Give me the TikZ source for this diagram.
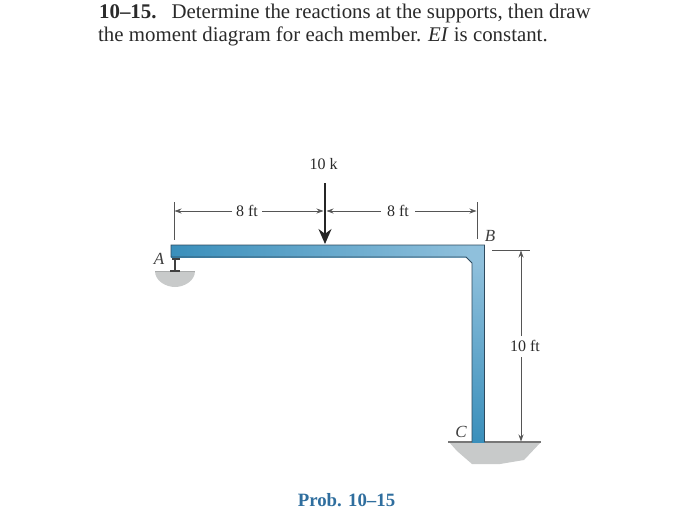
\documentclass[tikz,border=0pt]{standalone}
\usepackage{fontspec}
\setmainfont{Liberation Serif}
\usetikzlibrary{arrows.meta,shadings}
\definecolor{beamedge}{HTML}{2E4A5E}
\definecolor{beamdark}{HTML}{3A8FBB}
\definecolor{beamlight}{HTML}{8FC0DC}
\definecolor{dimgrey}{HTML}{555555}
\definecolor{ground}{HTML}{C8CACA}
\definecolor{titletext}{HTML}{2A2A2A}
\definecolor{probtext}{HTML}{2F6E9E}
\tikzset{
  title/.style={anchor=base west,inner sep=0pt,font=\fontsize{20.85}{21}\selectfont,text=titletext},
  dimlabel/.style={inner sep=0pt,font=\fontsize{16}{17}\selectfont,text=titletext},
  ptlabel/.style={inner sep=0pt,font=\fontsize{17}{18}\selectfont\itshape,text=titletext!90},
  dimline/.style={draw=dimgrey,line width=0.8pt},
  dimarrow/.style={dimline,-{Stealth[length=7pt,width=5pt]}},
  extline/.style={draw=dimgrey,line width=0.9pt},
  groundline/.style={draw=dimgrey!80,line width=1.2pt},
  member/.style={draw=beamedge,line width=0.9pt},
  load/.style={draw=black!85,line width=1.8pt,-{Stealth[length=15pt,width=13pt]}},
}
\begin{document}
\begin{tikzpicture}[x=1pt,y=-1pt]
\useasboundingbox (0,0) rectangle (700,531);
% title
\node[title] (t1) at (99,18) {\textbf{10–15.}\hspace{0.72em}Determine the reactions at the supports, then draw};
\node[title] (t2) at (98,41) {the moment diagram for each member. \textit{EI} is constant.};
% ground at A
\fill[ground] (155,271) -- (195,271) .. controls (195,281) and (184,287) .. (175,287) .. controls (166,287) and (155,281) .. (155,271) -- cycle;
\coordinate (gal) at (155,271);
\coordinate (gar) at (195,271);
\draw[draw=ground!85!black,line width=0.8pt] (gal) -- (gar);
% ground at C
\fill[ground] (449,442) -- (541,442) -- (524,460) -- (500,464) -- (472,464) -- (457,451) -- cycle;
\coordinate (gcl) at (448,442);
\coordinate (gcr) at (541,442);
\draw[groundline] (gcl) -- (gcr);
% pin support at A
\draw[draw=black!75,line width=2pt] (172,258.5) -- (180,258.5) (174.5,258) -- (174.5,270.5) (170,270.5) -- (180,270.5);
% frame
\shade[left color=beamdark,right color=beamlight]
 (171,245) -- (471,245) -- (471,257) -- (171,257) -- cycle;
\shade[top color=beamlight,bottom color=beamdark]
 (472,263) -- (484.5,263) -- (484.5,442) -- (472,442) -- cycle;
\fill[beamlight] (470.5,245) -- (484.5,245) -- (484.5,263.5) -- (472,263.5) -- (466,257) -- (470.5,257) -- cycle;
\draw[member] (484.5,442) -- (484.5,245) -- (171,245) -- (171,257) -- (466,257) -- (472,263) -- (472,442);
% extension lines
\coordinate (ea1) at (174,202);
\coordinate (ea2) at (174,240);
\coordinate (eb1) at (477,202);
\coordinate (eb2) at (477,239);
\coordinate (ec1) at (492,250);
\coordinate (ec2) at (530,250);
\draw[extline] (ea1) -- (ea2);
\draw[extline] (eb1) -- (eb2);
\draw[extline] (ec1) -- (ec2);
% load
\coordinate (la) at (325,183);
\coordinate (lb) at (325,244);
\draw[load] (la) -- (lb);
\node[dimlabel] (ten) at (323.5,164) {10 k};
% dimension labels
\node[dimlabel] (d1) at (247,211) {8 ft};
\node[dimlabel] (d2) at (398,211) {8 ft};
\node[dimlabel] (d3) at (525,346) {10 ft};
% dimension lines
\coordinate (a1) at (232,211);
\coordinate (a1e) at (174.5,211);
\coordinate (a2) at (262,211);
\coordinate (a2e) at (323.5,211);
\coordinate (a3) at (381,211);
\coordinate (a3e) at (326.5,211);
\coordinate (a4) at (415,211);
\coordinate (a4e) at (476.5,211);
\draw[dimarrow] (a1) -- (a1e);
\draw[dimarrow] (a2) -- (a2e);
\draw[dimarrow] (a3) -- (a3e);
\draw[dimarrow] (a4) -- (a4e);
\coordinate (v1) at (521,336);
\coordinate (v1e) at (521,250.5);
\coordinate (v2) at (521,357);
\coordinate (v2e) at (521,441.5);
\draw[dimarrow] (v1) -- (v1e);
\draw[dimarrow] (v2) -- (v2e);
% point labels
\node[ptlabel] (A) at (159,259) {A};
\node[ptlabel] (B) at (490,236) {B};
\node[ptlabel] (C) at (461,432) {C};
% caption
\node[inner sep=0pt,font=\fontsize{18.8}{19}\selectfont\bfseries,text=probtext] (cap) at (346.5,500) {Prob. 10–15};
\end{tikzpicture}
\end{document}
